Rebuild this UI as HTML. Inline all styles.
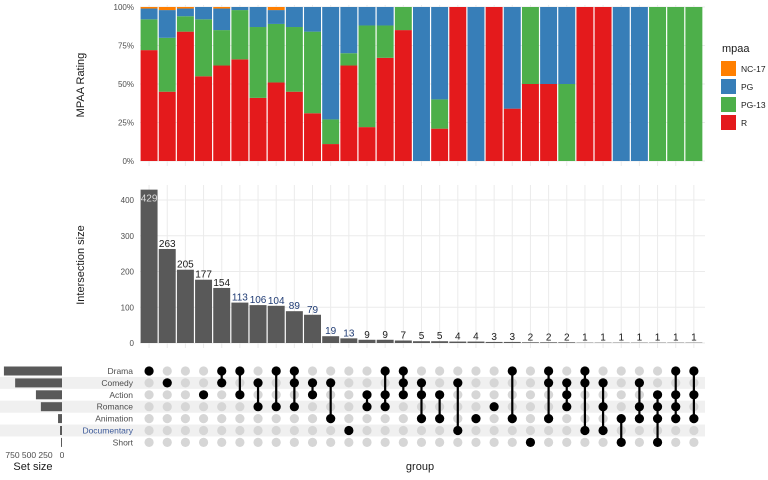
<!DOCTYPE html>
<html><head><meta charset="utf-8"><style>
body{margin:0;background:#fff;font-family:"Liberation Sans",sans-serif;}
svg text{font-family:"Liberation Sans",sans-serif;}
</style></head><body>
<svg id="chart" width="768" height="475" viewBox="0 0 768 475" xmlns="http://www.w3.org/2000/svg">
<g id="stripes"></g><g id="grid"></g><g id="marks"></g><g id="labels"></g>
<text x="84" y="85" font-size="11" text-anchor="middle" transform="rotate(-90 84 85)" fill="#1a1a1a">MPAA Rating</text>
<text x="84" y="265" font-size="11" text-anchor="middle" transform="rotate(-90 84 265)" fill="#1a1a1a">Intersection size</text>
<text x="420" y="470" font-size="11" text-anchor="middle" fill="#1a1a1a">group</text>
<text x="33" y="470" font-size="11" text-anchor="middle" fill="#1a1a1a">Set size</text>
<g>
<text x="722" y="52" font-size="11" fill="#1a1a1a">mpaa</text>
<rect x="721" y="61" width="15" height="15" fill="#ff7f00"/><text x="741" y="72" font-size="8.5" fill="#1a1a1a">NC-17</text>
<rect x="721" y="79" width="15" height="15" fill="#377eb8"/><text x="741" y="90" font-size="8.5" fill="#1a1a1a">PG</text>
<rect x="721" y="97" width="15" height="15" fill="#4daf4a"/><text x="741" y="108" font-size="8.5" fill="#1a1a1a">PG-13</text>
<rect x="721" y="115" width="15" height="15" fill="#e41a1c"/><text x="741" y="126" font-size="8.5" fill="#1a1a1a">R</text>
</g>
</svg>
<script>
const sets = ["Drama","Comedy","Action","Romance","Animation","Documentary","Short"];
const setSizes = [880, 710, 395, 320, 60, 30, 15];
const sizes = [429,263,205,177,154,113,106,104,89,79,19,13,9,9,7,5,5,4,4,3,3,2,2,2,1,1,1,1,1,1,1];
const members = [["Drama"],["Comedy"],[],["Action"],["Drama","Comedy"],["Drama","Action"],["Comedy","Romance"],["Drama","Romance"],["Drama","Comedy","Romance"],["Comedy","Action"],["Comedy","Animation"],["Documentary"],["Action","Romance"],["Drama","Action","Romance"],["Drama","Comedy","Action"],["Comedy","Action","Animation"],["Action","Animation"],["Comedy","Documentary"],["Animation"],["Romance"],["Drama","Animation"],["Short"],["Drama","Comedy","Animation"],["Comedy","Action","Romance"],["Drama","Comedy","Documentary"],["Comedy","Romance","Documentary"],["Animation","Short"],["Comedy","Romance","Animation"],["Action","Romance","Animation","Short"],["Drama","Action","Romance","Animation"],["Drama","Action","Animation"]];
const pctR =    [72,45,84,55,62,66,41,51,45,31,11,62,22,67,85,0,21,100,0,100,34,50,50,0,100,100,0,0,0,0,0];
const pctPG13 = [20,35,10,37,23,32,46,38,42,53,16,8,66,21,15,0,19,0,0,0,0,50,0,50,0,0,0,0,100,100,100];
const pctPG =   [7,18,5,8,14,2,13,9,13,16,73,30,12,12,0,100,60,0,100,0,66,0,50,50,0,0,100,100,0,0,0];
const pctNC17 = [1,2,1,0,1,0,0,2,0,0,0,0,0,0,0,0,0,0,0,0,0,0,0,0,0,0,0,0,0,0,0];
const pctTicks = [0,25,50,75,100];
const sizeTicks = [0,100,200,300,400];
const setTicks = [750,500,250,0];

const NS="http://www.w3.org/2000/svg";
function mk(parent,tag,attrs){const e=document.createElementNS(NS,tag);for(const k in attrs)e.setAttribute(k,attrs[k]);document.getElementById(parent).appendChild(e);return e;}
const x0=140, step=18.16;
const cx=i=>x0+step*(i+0.5);
const yPct=p=>161-p*1.54;
const ySize=v=>343-v*0.3575;
const rowY=r=>371+r*11.9;
const xSet=v=>62-v*0.066;

sets.forEach((s,r)=>{ if(r%2===1){const e=mk('stripes','rect',{x:0,y:rowY(r)-6,width:705,height:12,fill:'#f0f0f0'});

}});
pctTicks.forEach(t=>{mk('grid','line',{x1:x0,x2:705,y1:yPct(t),y2:yPct(t),stroke:'#ebebeb'});
const l=mk('labels','text',{x:134,y:yPct(t)+3,'font-size':8,'text-anchor':'end',fill:'#4d4d4d'});l.textContent=t+'%';

});
sizeTicks.forEach(t=>{mk('grid','line',{x1:x0,x2:705,y1:ySize(t),y2:ySize(t),stroke:'#ebebeb'});
const l=mk('labels','text',{x:134,y:ySize(t)+3,'font-size':8,'text-anchor':'end',fill:'#4d4d4d'});l.textContent=t;

});
setTicks.forEach(t=>{const l=mk('labels','text',{x:xSet(t),y:458,'font-size':8.5,'text-anchor':'middle',fill:'#4d4d4d'});l.textContent=t;

});
sizes.forEach((v,i)=>{mk('grid','line',{x1:cx(i),x2:cx(i),y1:5,y2:166,stroke:'#ebebeb'});mk('grid','line',{x1:cx(i),x2:cx(i),y1:185,y2:348,stroke:'#ebebeb'});});

sizes.forEach((v,i)=>{
  let acc=0;
  [[pctR,'#e41a1c','r'],[pctPG13,'#4daf4a','pg13'],[pctPG,'#377eb8','pg'],[pctNC17,'#ff7f00','nc17']].forEach(([arr,c,n])=>{
    const p=arr[i]; if(p<=0)return;
    const r=mk('marks','rect',{x:cx(i)-step/2+0.6,width:step-1.2,y:yPct(acc+p),height:p*1.54,fill:c});
    
    
    acc+=p;});
  const b=mk('marks','rect',{x:cx(i)-step/2+0.6,width:step-1.2,y:ySize(v),height:v*0.3575,fill:'#595959'});
  
  
  const t=mk('labels','text',{x:cx(i),y:ySize(v)-(i===0?-12:2),'font-size':10,'text-anchor':'middle',fill:i===0?'#dddddd':(i>=5&&i<=11?'#1f3b73':'#1a1a1a')});
  t.textContent=v;
  
  
});
sets.forEach((s,r)=>{
  const b=mk('marks','rect',{x:xSet(setSizes[r]),y:rowY(r)-4.5,width:62-xSet(setSizes[r]),height:9,fill:'#595959'});
  
  
  const t=mk('labels','text',{x:133,y:rowY(r)+3,'font-size':8.5,'text-anchor':'end',fill:s==='Documentary'?'#3d5a99':'#4d4d4d'});
  t.textContent=s;
  
  
});
members.forEach((m,i)=>{
  const rows=m.map(s=>sets.indexOf(s));
  sets.forEach((s,r)=>{const c=mk('marks','circle',{cx:cx(i),cy:rowY(r),r:4.6,fill:'#d6d6d6'});
  
  });
  if(rows.length>1){const l=mk('marks','line',{x1:cx(i),x2:cx(i),y1:rowY(Math.min(...rows)),y2:rowY(Math.max(...rows)),stroke:'#000','stroke-width':2.2});
  
  }
  rows.forEach(r=>{const c=mk('marks','circle',{cx:cx(i),cy:rowY(r),r:4.6,fill:'#000'});
  
  });
});
</script>
</body></html>
